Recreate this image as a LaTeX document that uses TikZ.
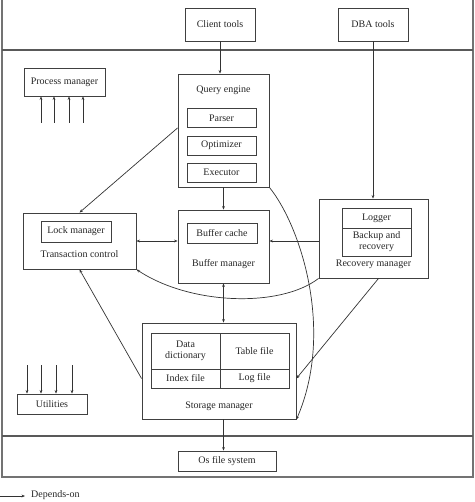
\documentclass[tikz,border=0pt]{standalone}
\usepackage{fontspec}
\setmainfont{Liberation Serif}
\usetikzlibrary{arrows.meta,calc}
\begin{document}
\begin{tikzpicture}[x=1pt,y=-1pt,
  every node/.style={font=\fontsize{10}{11}\selectfont, text=black!85, inner sep=0pt},
  box/.style={draw=black!75, line width=0.9pt, rectangle},
  arr/.style={draw=black!80, line width=0.7pt, -{Stealth[length=3.5pt,width=2.8pt]}},
  darr/.style={draw=black!80, line width=0.7pt, {Stealth[length=3.5pt,width=2.8pt]}-{Stealth[length=3.5pt,width=2.8pt]}},
  frame/.style={draw=black!55, line width=2.4pt},
  sep/.style={draw=black!65, line width=1.1pt}]
\useasboundingbox (0,0) rectangle (474,502);
% frame
\draw[frame] (2,0) -- (2,477) -- (473,477) -- (473,0);
\draw[sep] (2,50) -- (473,50);
\draw[sep] (2,436) -- (473,436);
% boxes
\node[box, minimum width=70, minimum height=33] (ct) at (220,24.5) {Client tools};
\node[box, minimum width=70, minimum height=33] (dba) at (373,24.5) {DBA tools};
\node[box, minimum width=81, minimum height=28] (pm) at (64.5,82) {Process manager};
\node[box, minimum width=91, minimum height=113] (qe) at (223.5,130.5) {};
\node (qet) at (223.5,90) {Query engine};
\node[box, minimum width=69, minimum height=19] (pa) at (221.5,118) {Parser};
\node[box, minimum width=69, minimum height=19] (op) at (221.5,145.5) {Optimizer};
\node[box, minimum width=69, minimum height=19] (ex) at (221.5,172.5) {Executor};
\node[box, minimum width=113, minimum height=56] (tc) at (79.5,241) {};
\node[box, minimum width=70, minimum height=21] (lm) at (76,231.5) {Lock manager};
\node (tct) at (79.5,254) {Transaction control};
\node[box, minimum width=91, minimum height=73] (bm) at (223.5,246.5) {};
\node[box, minimum width=70, minimum height=20] (bc) at (222,233) {Buffer cache};
\node (bmt) at (223.5,264) {Buffer manager};
\node[box, minimum width=109, minimum height=79] (rm) at (373.5,238.5) {};
\node[box, minimum width=69, minimum height=20] (lg) at (376.5,218) {Logger};
\node[box, minimum width=69, minimum height=28, align=center] (br) at (376.5,242) {Backup and\\recovery};
\node (rmt) at (373.5,264) {Recovery manager};
\node[box, minimum width=154, minimum height=96] (sm) at (219,371) {};
\node[box, minimum width=69, minimum height=36, align=center] (dd) at (185.5,351) {Data\\dictionary};
\node[box, minimum width=69, minimum height=36] (tf) at (254.5,351) {Table file};
\node[box, minimum width=69, minimum height=19] (ix) at (185.5,378.5) {Index file};
\node[box, minimum width=69, minimum height=19] (lf) at (254.5,378.5) {Log file};
\node (smt) at (219,406) {Storage manager};
\node[box, minimum width=98, minimum height=20] (os) at (227,461) {Os file system};
\node[box, minimum width=70, minimum height=20] (ut) at (52,404) {Utilities};
% connectors
\draw[arr] (ct.south) -- (ct.south |- qe.north);
\draw[arr] (dba.south) -- (dba.south |- rm.north);
\draw[arr] (qe.south) -- (qe.south |- bm.north);
\draw[darr] (bm.south) -- (bm.south |- sm.north);
\draw[arr] (bm.south |- sm.south) -- (bm.south |- os.north);
\draw[darr] (tc.east) -- (tc.east -| bm.west);
\draw[arr] (rm.west |- tc.east) -- (tc.east -| bm.east);
\draw[arr] (qe.west |- pa.south) -- (tc.north);
\draw[arr] (sm.west |- lf.east) -- (tc.south);
\draw[arr] ($(rm.south)+(5,0)$) -- (sm.east |- lf.east);
\draw[arr] (rm.south west) .. controls (280,308) and (190,305) .. (tc.south east);
\draw[arr] (qe.south east) .. controls (300,225) and (335,330) .. (sm.south east);
% process manager arrows
\foreach \i/\x in {1/41,2/54,3/69,4/83}{
  \coordinate (p\i) at (\x,123);
  \draw[arr] (p\i) -- (p\i |- pm.south);
}
% utilities arrows
\foreach \i/\x in {1/27,2/41,3/56,4/72}{
  \coordinate (u\i) at (\x,365);
  \draw[arr] (u\i) -- (u\i |- ut.north);
}
% legend
\coordinate (l1) at (0,496);
\coordinate (l2) at (25,496);
\draw[arr] (l1) -- (l2);
\node[anchor=west] (lt) at (31,495.5) {Depends-on};
\end{tikzpicture}
\end{document}
